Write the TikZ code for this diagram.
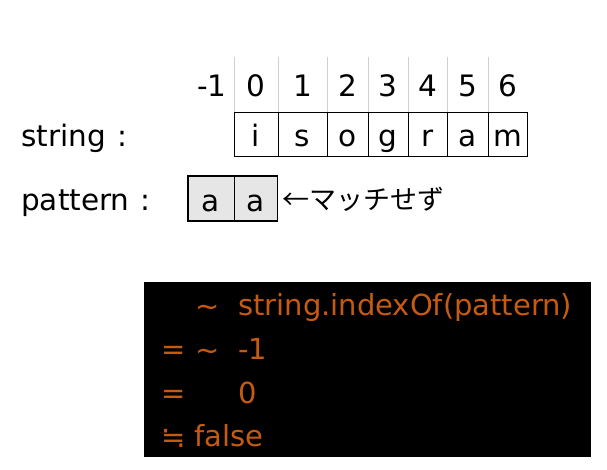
\documentclass[tikz,border=0pt]{standalone}
\usepackage{fontspec}
\setmainfont{DejaVu Sans}
\newfontfamily\jpfont{Noto Sans CJK JP}
\definecolor{codeorange}{HTML}{C55A11}
\definecolor{cellgray}{HTML}{E6E6E6}
\definecolor{rulegray}{HTML}{D0D0D0}

\begin{document}
\begin{tikzpicture}[x=1pt,y=-1pt,
    txt/.style={inner sep=0,font=\fontsize{29.5}{35}\selectfont},
    idx/.style={txt,anchor=base},
    cell/.style={txt,draw,line width=0.8pt,minimum height=44pt,text height=28pt,text depth=2pt},
    pcell/.style={cell,fill=cellgray},
    code/.style={txt,anchor=base west,text=codeorange,font=\fontsize{29}{35}\selectfont}]
    \useasboundingbox (0,0) rectangle (607,470);
    % labels
    \node[txt,anchor=base west] (lstr) at (21,147) {string\hspace{12pt}:};
    \node[txt,anchor=base west] (lpat) at (21,211) {pattern\hspace{11pt}:};
    % index row
    \foreach \x in {234,278,327,368,408,447,488}
        \draw[rulegray,line width=0.8pt] (\x,57) -- (\x,112);
    \node[idx] (im) at (212,97) {-1};
    \foreach \x/\n in {256/0,302.5/1,347.5/2,388/3,427.5/4,467.5/5,507.5/6}
        \node[idx] (i\n) at (\x,97) {\n};
    % string cells
    \node[cell,minimum width=44pt] (s0) at (256,134) {i};
    \node[cell,minimum width=49pt] (s1) at (302.5,134) {s};
    \node[cell,minimum width=41pt] (s2) at (347.5,134) {o};
    \node[cell,minimum width=40pt] (s3) at (388,134) {g};
    \node[cell,minimum width=39pt] (s4) at (427.5,134) {r};
    \node[cell,minimum width=41pt] (s5) at (467.5,134) {a};
    \node[cell,minimum width=39pt] (s6) at (507.5,134) {m};
    % pattern cells
    \node[pcell,minimum width=46pt] (p0) at (211,198.5) {a};
    \node[pcell,minimum width=43pt] (p1) at (255.5,198.5) {a};
    \draw[line width=1.8pt] (p0.north west) rectangle (p1.south east);
    \node[inner sep=0,anchor=base west,font=\jpfont\fontsize{27}{32}\selectfont] (note) at (282,210) {←マッチせず};
    % console
    \fill[black] (144,282) rectangle (591,457);
    \node[code] (t1) at (195,316) {\char"007E};
    \node[code] (c1) at (238,315) {string.indexOf(pattern)};
    \node[code] (e2) at (161,359) {=};
    \node[code] (t2) at (195,360) {\char"007E};
    \node[code] (c2) at (238,359) {-1};
    \node[code] (e3) at (161,403) {=};
    \node[code] (c3) at (238,403) {0};
    \node[code] (e4) at (161,447) {≒};
    \node[code] (c4) at (194,446) {false};
\end{tikzpicture}
\end{document}
